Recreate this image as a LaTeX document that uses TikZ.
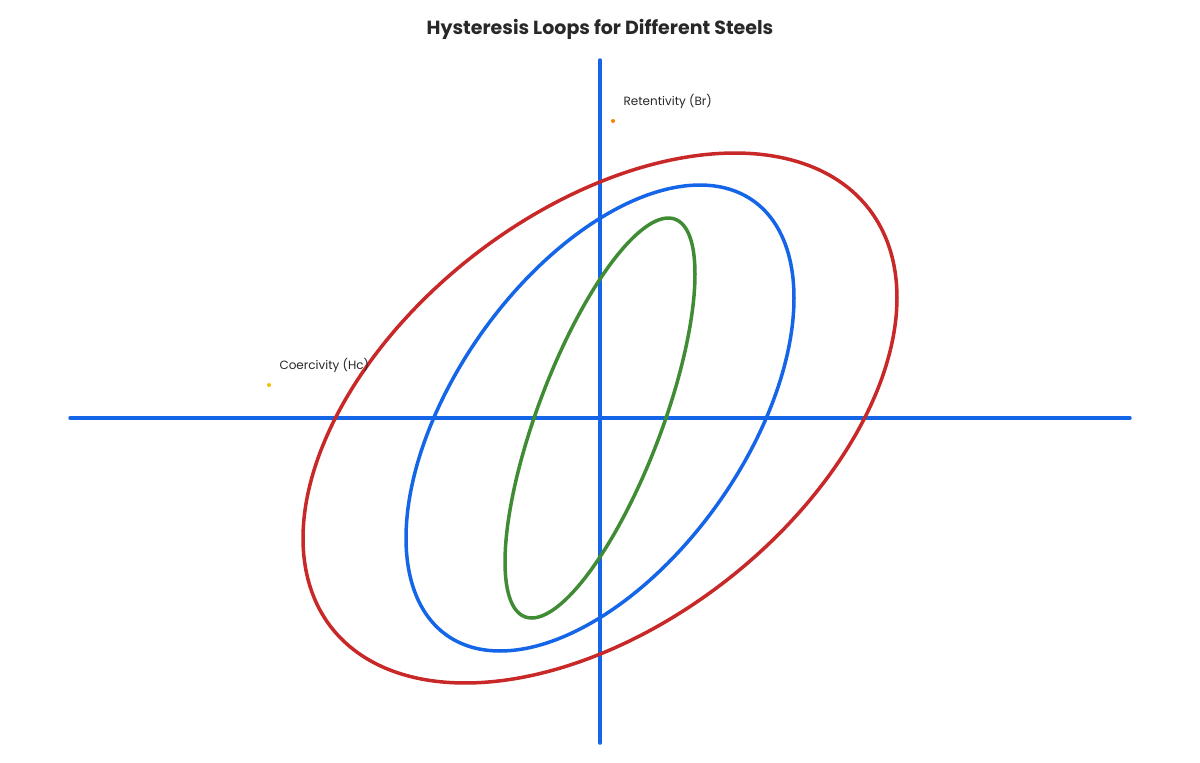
\documentclass[tikz,border=0pt]{standalone}
\usepackage{fontspec}
\setmainfont{Poppins}
\definecolor{axblue}{RGB}{21,101,232}
\definecolor{lred}{RGB}{200,40,40}
\definecolor{lgreen}{RGB}{64,140,52}
\definecolor{dyel}{RGB}{245,190,0}
\definecolor{dor}{RGB}{245,130,0}
\definecolor{txt}{RGB}{40,40,40}
\begin{document}
\begin{tikzpicture}[x=1pt,y=-1pt,
  axis/.style={draw=axblue,line width=3.5pt,line cap=round},
  loop/.style={line width=3.5pt},
  lbl/.style={anchor=west,font=\fontsize{12}{14}\selectfont,text=txt}]
\useasboundingbox (0,0) rectangle (1200,763);
\node[font=\bfseries\fontsize{19}{22}\selectfont,text=txt] (title) at (600,29) {Hysteresis Loops for Different Steels};
\coordinate (hl) at (70,418); \coordinate (hr) at (1130,418);
\coordinate (vt) at (600,60); \coordinate (vb) at (600,743);
\draw[axis] (hl) -- (hr);
\draw[axis] (vt) -- (vb);
\draw[loop,draw=lred] plot[domain=0:360,samples=120,smooth cycle] ({600+297*cos(\x)},{418-265*cos(\x+63)});
\draw[loop,draw=axblue] plot[domain=0:360,samples=120,smooth cycle] ({600+194*cos(\x)},{418-233*cos(\x+59)});
\draw[loop,draw=lgreen] plot[domain=0:360,samples=120,smooth cycle] ({600+95*cos(\x)},{418-200*cos(\x+44)});
\fill[dor] (613,121) circle (2pt) coordinate (br);
\fill[dyel] (269,385) circle (2pt) coordinate (hc);
\node[lbl] (brl) at (620,101) {Retentivity (Br)};
\node[lbl] (hcl) at (276,365) {Coercivity (Hc)};
\end{tikzpicture}
\end{document}
